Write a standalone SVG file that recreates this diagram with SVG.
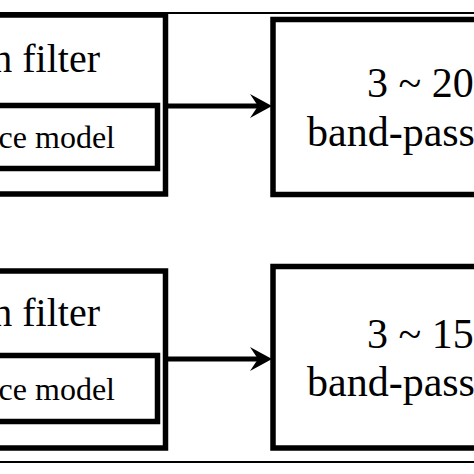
<svg xmlns="http://www.w3.org/2000/svg" width="474" height="474" viewBox="0 0 474 474">
<style>
.box{fill:none;stroke:#000;stroke-width:5.5}
.frame{stroke:#000;stroke-width:2.2}
.conn{stroke:#000;stroke-width:5;fill:none}
.t{font-family:"Liberation Serif","Times New Roman",serif;fill:#000}
.big{font-size:40px}
.med{font-size:32px}
.rt{font-size:42px}
</style>
<defs>
<path id="ah" d="M272,0 L250,-12 L258,0 L250,12 Z" fill="#000"/>
</defs>
<rect width="474" height="474" fill="#fff"/>
<g id="frame">
<line class="frame" x1="0" y1="13" x2="474" y2="13"/>
<line class="frame" x1="0" y1="462" x2="474" y2="462"/>
</g>
<g id="filter1">
<rect class="box" x="-20" y="15" width="185.5" height="179"/>
<text class="t big" x="100" y="72" text-anchor="end">n filter</text>
</g>
<g id="model1">
<rect class="box" x="-20" y="105.5" width="177.5" height="63"/>
<text class="t med" x="115" y="148" text-anchor="end">ce model</text>
</g>
<g id="bandpass1">
<rect class="box" x="273" y="19.5" width="300" height="175"/>
<text class="t rt" x="367" y="97">3 ~ 20</text>
<text class="t rt" x="307" y="146">band-pass</text>
</g>
<g id="filter2">
<rect class="box" x="-20" y="271" width="185.5" height="177"/>
<text class="t big" x="100" y="326" text-anchor="end">n filter</text>
</g>
<g id="model2">
<rect class="box" x="-20" y="355.5" width="177.5" height="66"/>
<text class="t med" x="115" y="400" text-anchor="end">ce model</text>
</g>
<g id="bandpass2">
<rect class="box" x="273" y="266.5" width="300" height="181.5"/>
<text class="t rt" x="367" y="348">3 ~ 15</text>
<text class="t rt" x="307" y="396">band-pass</text>
</g>
<g id="connectors">
<line class="conn" x1="168" y1="106" x2="260" y2="106"/>
<use href="#ah" y="106"/>
<line class="conn" x1="168" y1="359" x2="260" y2="359"/>
<use href="#ah" y="359"/>
</g>
</svg>
